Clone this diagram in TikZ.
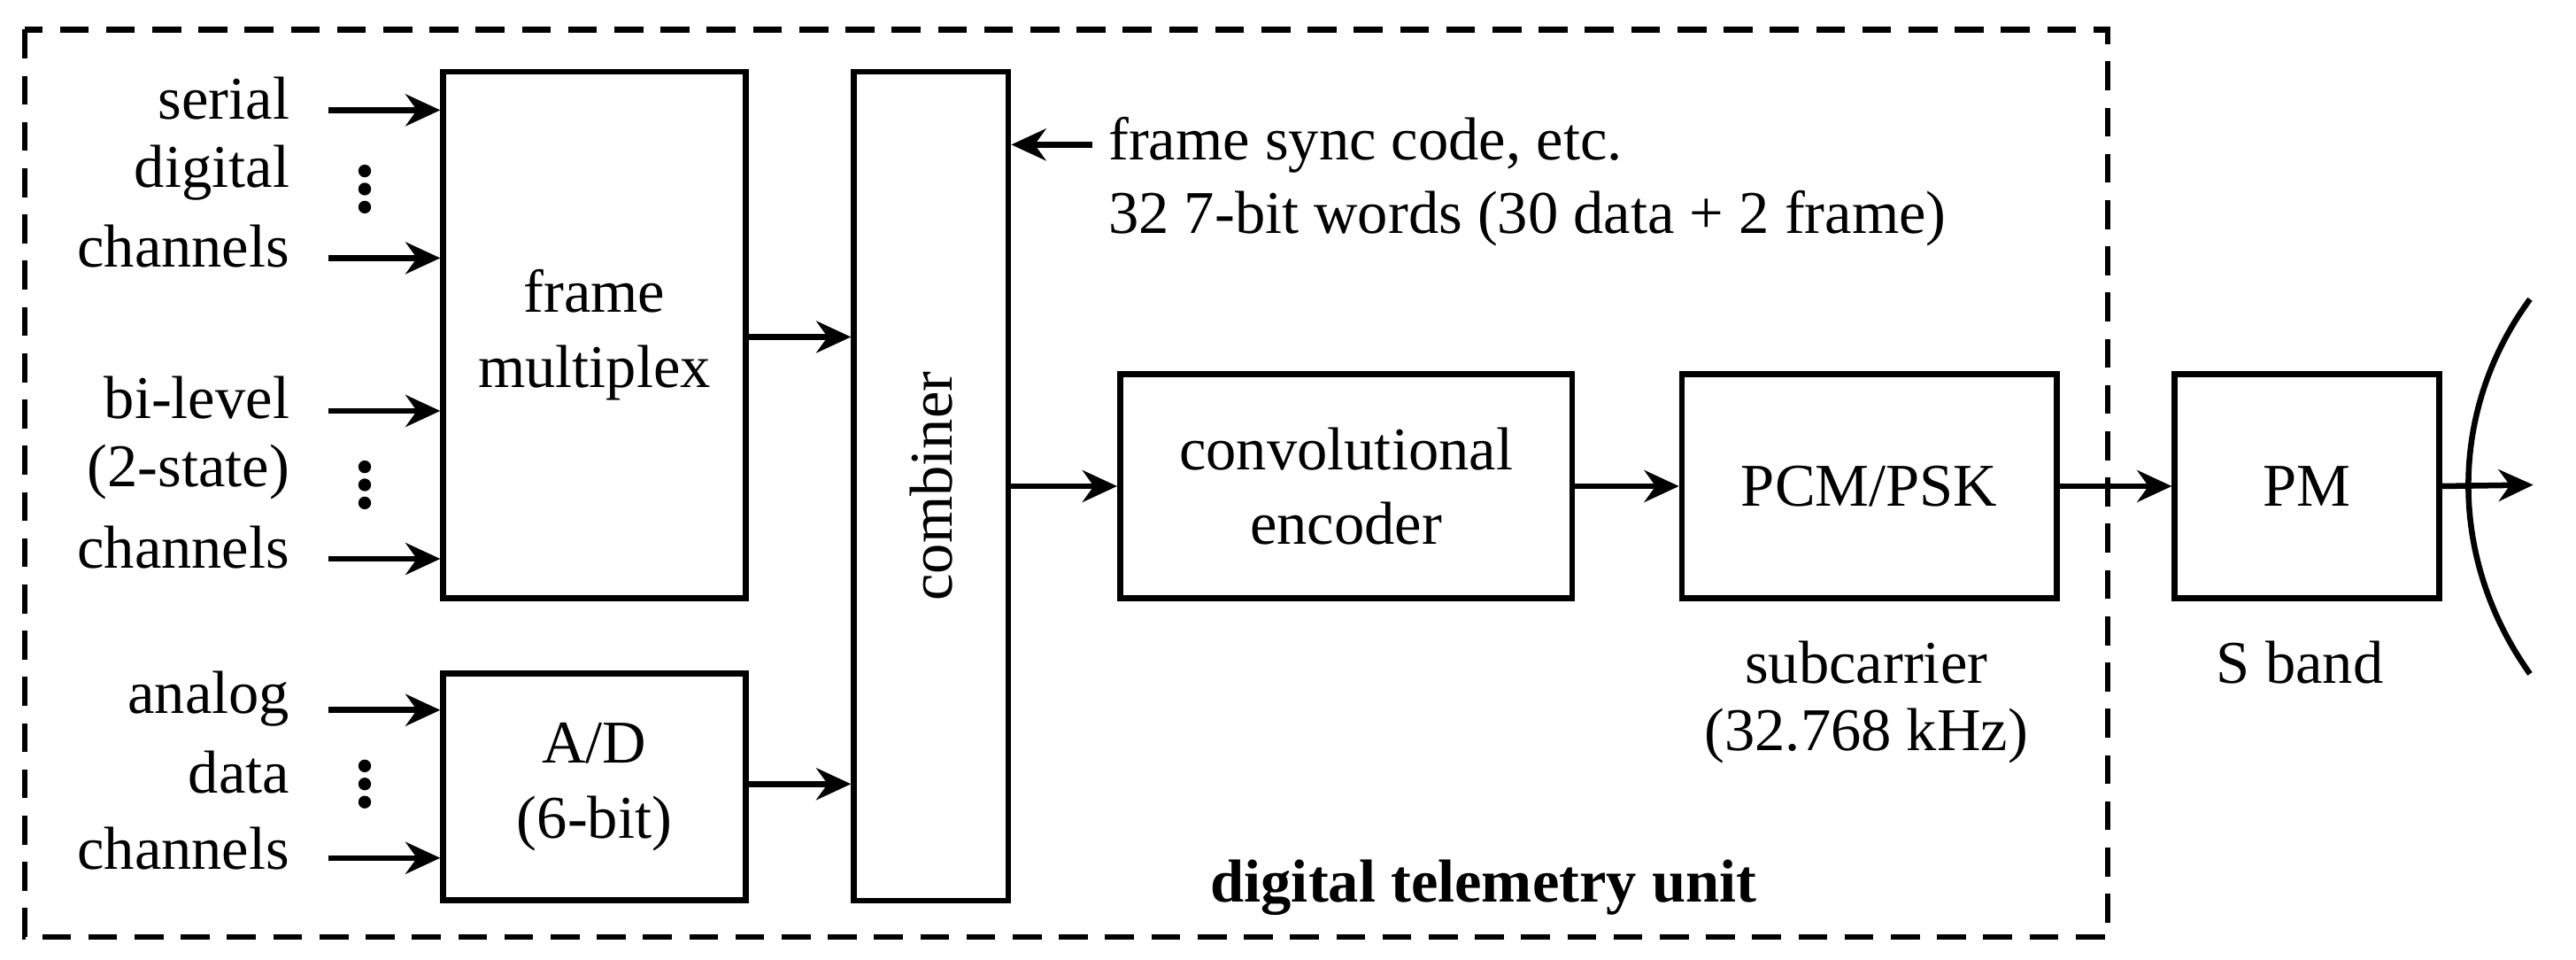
\documentclass[tikz,border=0pt]{standalone}
\usepackage{fontspec}
\setmainfont{Liberation Serif}
\usetikzlibrary{arrows.meta}
\begin{document}
\begin{tikzpicture}[x=0.01cm,y=-0.01cm,
  font=\fontsize{10.5}{13}\selectfont,
  line width=1pt,
  blk/.style={draw,anchor=north west,inner sep=0pt},
  lbl/.style={inner sep=0pt,anchor=east},
  arr/.style={-{Stealth[length=6pt,width=5.5pt]}}]
\useasboundingbox (0,0) rectangle (1568,584);
\draw[dash pattern=on 5pt off 3pt] (15,18) rectangle (1283,570);
% blocks
\node[blk,minimum width=1.84cm,minimum height=3.2cm] (fm) at (268,42) {};
\node[align=center] at (fm.center) {frame\\multiplex};
\node[blk,minimum width=1.84cm,minimum height=1.38cm] (ad) at (268,408) {};
\node[align=center] at (ad.center) {A/D\\(6-bit)};
\node[blk,minimum width=0.94cm,minimum height=5.04cm] (cb) at (518,42) {};
\node[rotate=90] at (cb.center) {combiner};
\node[blk,minimum width=2.75cm,minimum height=1.36cm] (ce) at (680,226) {};
\node[align=center] at (ce.center) {convolutional\\encoder};
\node[blk,minimum width=2.28cm,minimum height=1.36cm] (pcm) at (1022,226) {};
\node at (pcm.center) {PCM/PSK};
\node[blk,minimum width=1.61cm,minimum height=1.36cm] (pm) at (1322,226) {};
\node at (pm.center) {PM};
% input labels
\foreach \t/\y in {serial/60,digital/105,channels/150,bi-level/242,(2-state)/287,channels/333,analog/425,data/470,channels/516}
  \node[lbl] at (178,\y) {\t};
\foreach \y [count=\i] in {67,157,250,340,432,522} {
  \coordinate (in\i) at (200,\y);
  \draw[arr] (in\i) -- (268,\y);
}
\foreach \y in {115,295,477}
  \foreach \d in {-11,0,11}
    \fill (222,\y+\d) circle (1.1pt);
% internal connectors
\draw[arr] (fm.east |- 0,205) -- (cb.west |- 0,205);
\draw[arr] (ad.east |- 0,477) -- (cb.west |- 0,477);
\draw[arr] (cb.east |- ce.west) -- (ce.west);
\draw[arr] (ce.east) -- (pcm.west);
\draw[arr] (pcm.east) -- (pm.west);
\coordinate (out) at (1542,295);
\draw[arr] (pm.east) -- (out);
\draw (1540,182) .. controls (1490,250) and (1490,340) .. (1540,410);
\coordinate (fs) at (665,88);
\draw[arr] (fs) -- (cb.east |- fs);
\node[inner sep=0pt,anchor=west] at (673,88) {frame sync code, etc.};
\node[inner sep=0pt,anchor=west] at (673,133) {32 7-bit words (30 data + 2 frame)};
\node[inner sep=0pt] at (1136,403) {subcarrier};
\node[inner sep=0pt] at (1136,448) {(32.768 kHz)};
\node[inner sep=0pt] at (1400,403) {S band};
\node[inner sep=0pt,font=\fontsize{10.5}{13}\selectfont\bfseries] at (903,540) {digital telemetry unit};
\end{tikzpicture}
\end{document}
